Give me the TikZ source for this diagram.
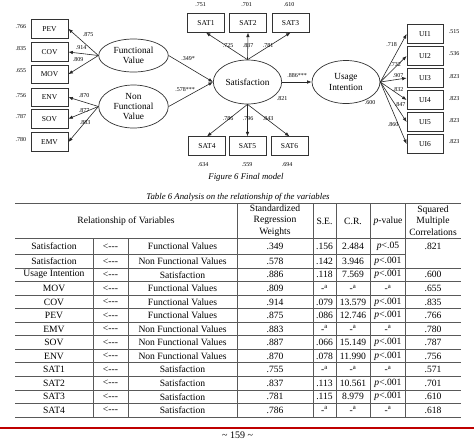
\documentclass[tikz,border=0pt]{standalone}
\usepackage{fontspec}
\setmainfont{Liberation Serif}
\usetikzlibrary{arrows.meta,shapes.geometric,positioning}

\newcommand\boxfont{\fontsize{7.5}{8.5}\selectfont}
\newcommand\latfont{\fontsize{9.3}{10.3}\selectfont}
\newcommand\lblfont{\fontsize{6}{7}\selectfont}
\newcommand\tabfont{\fontsize{9.6}{11.5}\selectfont}
\newcommand\capfont{\fontsize{8.8}{10}\selectfont\itshape}
\newcommand\noest{-\textsuperscript{a}}

\tikzset{
  obsbox/.style={draw=black!80, line width=0.7pt, minimum width=37pt,
    minimum height=18.5pt, inner sep=0pt, font=\boxfont},
  latent/.style={draw=black!80, ellipse, line width=0.7pt, inner sep=0pt,
    align=center, font=\latfont},
  num/.style={inner sep=0pt, font=\lblfont},
  pathline/.style={-{Latex[length=4.5pt,width=3.5pt]}, line width=0.6pt, draw=black!85},
  cell/.style={inner sep=0pt, font=\tabfont, align=center},
  gridline/.style={draw=black!65, line width=0.8pt}
}

\begin{document}
\begin{tikzpicture}[x=1pt,y=-1pt]
  \useasboundingbox (0,0) rectangle (474,440);

  % Latent variables
  \node[latent, minimum width=69.6pt, minimum height=33pt] (fv) at (133.5,55.5) {Functional\\Value};
  \node[latent, minimum width=69.6pt, minimum height=43pt] (nfv) at (133.5,106.5) {Non\\Functional\\Value};
  \node[latent, minimum width=68.4pt, minimum height=44pt] (sat) at (247.5,82) {Satisfaction};
  \node[latent, minimum width=68pt, minimum height=43pt] (ui) at (346,82) {Usage\\Intention};

  % Observed variables
  \node[obsbox] (pev) at (49.5,28.8) {PEV};
  \node[obsbox] (cov) at (49.5,52) {COV};
  \node[obsbox] (mov) at (49.5,74.2) {MOV};
  \node[obsbox] (env) at (49.5,97.2) {ENV};
  \node[obsbox] (sov) at (49.5,118.8) {SOV};
  \node[obsbox] (emv) at (49.5,142) {EMV};
  \node[obsbox] (sat1) at (206,23) {SAT1};
  \node[obsbox] (sat2) at (248,23) {SAT2};
  \node[obsbox] (sat3) at (290.5,23) {SAT3};
  \node[obsbox] (sat4) at (207,146) {SAT4};
  \node[obsbox] (sat5) at (247.5,146) {SAT5};
  \node[obsbox] (sat6) at (289.5,146) {SAT6};
  \foreach \i in {1,...,6}
    \node[obsbox, minimum width=36pt] (ui\i) at (425,{34+22*(\i-1)}) {UI\i};

  % Paths
  \foreach \b in {pev,cov,mov}
    \draw[pathline] (fv.west) -- (\b.east);
  \foreach \b in {env,sov,emv}
    \draw[pathline] (nfv.west) -- (\b.east);
  \foreach \b in {sat1,sat2,sat3}
    \draw[pathline] (sat.north) -- (\b.south);
  \foreach \b in {sat4,sat5,sat6}
    \draw[pathline] (sat.south) -- (\b.north);
  \foreach \i in {1,...,6}
    \draw[pathline] (ui.east) -- (ui\i.west);
  \draw[pathline] (fv.east) -- (sat.west);
  \draw[pathline] (nfv.east) -- (sat.west);
  \draw[pathline] (sat.east) -- (ui.west);

  % Loadings and R-squared values
  \node[num] (r-pev) at (21,26.7) {.766};
  \node[num] (r-cov) at (21,49) {.835};
  \node[num] (r-mov) at (21,71) {.655};
  \node[num] (r-env) at (21,96) {.756};
  \node[num] (r-sov) at (21,117) {.787};
  \node[num] (r-emv) at (21,140) {.780};
  \node[num] (l-pev) at (88,35) {.875};
  \node[num] (l-cov) at (81,48) {.914};
  \node[num] (l-mov) at (78,60) {.809};
  \node[num] (l-env) at (84,96) {.870};
  \node[num] (l-sov) at (84,111) {.877};
  \node[num] (l-emv) at (85,123) {.883};
  \node[num] (r-sat1) at (200.7,5) {.751};
  \node[num] (r-sat2) at (246.5,5) {.701};
  \node[num] (r-sat3) at (289,5) {.610};
  \node[num] (r-sat4) at (203,164.5) {.634};
  \node[num] (r-sat5) at (247,164.5) {.559};
  \node[num] (r-sat6) at (287,164.5) {.694};
  \node[num] (l-sat1) at (228,46) {.725};
  \node[num] (l-sat2) at (248,46) {.837};
  \node[num] (l-sat3) at (268,46) {.781};
  \node[num] (l-sat4) at (228,119) {.786};
  \node[num] (l-sat5) at (248,119) {.796};
  \node[num] (l-sat6) at (268,119) {.843};
  \node[num] (l-fv) at (188,59) {.349*};
  \node[num] (l-nfv) at (185,90) {.578***};
  \node[num] (l-sat) at (297,76) {.886***};
  \node[num] (r-sat) at (282,99) {.821};
  \node[num] (r-ui) at (370,103) {.600};
  \node[num] (l-ui1) at (391.7,45) {.718};
  \node[num] (l-ui2) at (395.7,65) {.732};
  \node[num] (l-ui3) at (398,76) {.907};
  \node[num] (l-ui4) at (398,90) {.832};
  \node[num] (l-ui5) at (400,105) {.847};
  \node[num] (l-ui6) at (393,125) {.860};
  \node[num] (r-ui1) at (454,32) {.515};
  \node[num] (r-ui2) at (454,54) {.536};
  \node[num] (r-ui3) at (454,77) {.823};
  \node[num] (r-ui4) at (454,99) {.823};
  \node[num] (r-ui5) at (454,121) {.823};
  \node[num] (r-ui6) at (454,142) {.823};

  \node[inner sep=0pt, font=\capfont] (figcap) at (246,177) {Figure 6 Final model};

  % Table
  \node[inner sep=0pt, font=\capfont] (tabcap) at (238,197) {Table 6 Analysis on the relationship of the variables};
  \draw[gridline] (15,203) -- (461,203);
  \draw[gridline] (15,238) -- (461,238);
  \draw[gridline] (15,254.5) -- (405.5,254.5);
  \foreach \k in {2,...,13}
    \draw[gridline] (15,{254.5+13.54*(\k-1)}) -- (461,{254.5+13.54*(\k-1)});
  \foreach \x in {93,128}
    \draw[gridline] (\x,238) -- (\x,417);
  \foreach \x in {237,313,336,370.5,405.5}
    \draw[gridline] (\x,203) -- (\x,417);

  \node[cell] (h-rel) at (126,221) {Relationship of Variables};
  \node[cell] (h-w) at (275,220.5) {Standardized\\Regression\\Weights};
  \node[cell] (h-se) at (324.5,221) {S.E.};
  \node[cell] (h-cr) at (353,221) {C.R.};
  \node[cell] (h-p) at (388,221) {\textit{p}-value};
  \node[cell] (h-smc) at (433,220.5) {Squared\\Multiple\\Correlations};

  \foreach \v/\f/\w/\se/\cr/\p/\smc [count=\i] in {
      Satisfaction/Functional Values/.349/.156/2.484/{\textit{p}<.05}/.821,
      Satisfaction/Non Functional Values/.578/.142/3.946/{\textit{p}<.001}/{},
      Usage Intention/Satisfaction/.886/.118/7.569/{\textit{p}<.001}/.600,
      MOV/Functional Values/.809/\noest/\noest/\noest/.655,
      COV/Functional Values/.914/.079/13.579/{\textit{p}<.001}/.835,
      PEV/Functional Values/.875/.086/12.746/{\textit{p}<.001}/.766,
      EMV/Non Functional Values/.883/\noest/\noest/\noest/.780,
      SOV/Non Functional Values/.887/.066/15.149/{\textit{p}<.001}/.787,
      ENV/Non Functional Values/.870/.078/11.990/{\textit{p}<.001}/.756,
      SAT1/Satisfaction/.755/\noest/\noest/\noest/.571,
      SAT2/Satisfaction/.837/.113/10.561/{\textit{p}<.001}/.701,
      SAT3/Satisfaction/.781/.115/8.979/{\textit{p}<.001}/.610,
      SAT4/Satisfaction/.786/\noest/\noest/\noest/.618} {
    \pgfmathsetmacro\ry{\i==1 ? 246.5 : 254.5+13.54*(\i-1.5)}
    \node[cell] (r\i-var) at (54,\ry) {\v};
    \node[cell] (r\i-arr) at (110.5,\ry) {<-{}-{}-};
    \node[cell] (r\i-from) at (182.5,\ry) {\f};
    \node[cell] (r\i-w) at (275,\ry) {\w};
    \node[cell] (r\i-se) at (324.5,\ry) {\se};
    \node[cell] (r\i-cr) at (353,\ry) {\cr};
    \node[cell] (r\i-p) at (388,\ry) {\p};
    \ifnum\i=2 \else \node[cell] (r\i-smc) at (433,\ry) {\smc}; \fi
  }

  % Page foot
  \draw[red!75!black, line width=1.3pt] (0,428) -- (474,428);
  \node[inner sep=0pt, anchor=base, font=\fontsize{10}{12}\selectfont] (pagenum) at (237.5,438.3) {\textasciitilde{} 159 \textasciitilde};
\end{tikzpicture}
\end{document}
